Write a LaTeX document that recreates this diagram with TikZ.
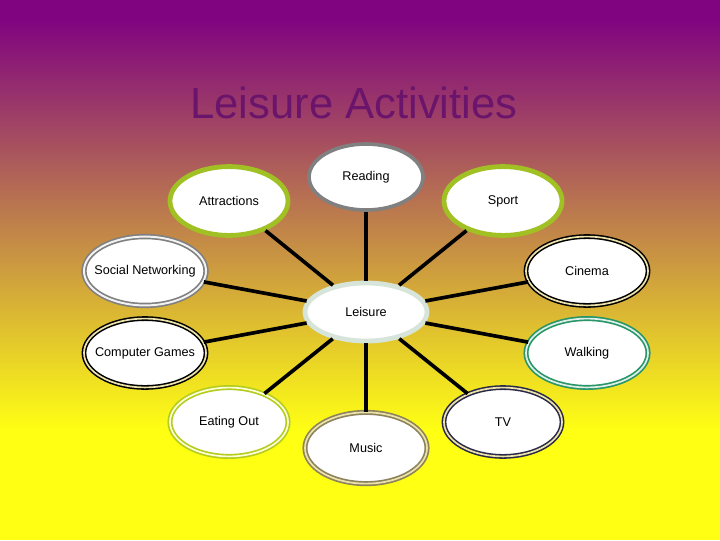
\documentclass[tikz,border=0pt]{standalone}
\usepackage{fontspec}
\setmainfont{Liberation Sans}
\usetikzlibrary{shapes.geometric}
\definecolor{titlepurple}{RGB}{106,20,108}
\definecolor{topviolet}{RGB}{128,4,128}
\definecolor{midtan}{RGB}{186,146,96}
\definecolor{lowyellow}{RGB}{255,255,20}
\definecolor{limegreen}{RGB}{160,192,36}
\definecolor{fadedgrey}{RGB}{128,128,128}
\definecolor{gapbeige}{RGB}{236,226,170}
\definecolor{walkgreen}{RGB}{40,150,104}
\definecolor{navyring}{RGB}{40,40,72}
\definecolor{olivering}{RGB}{140,130,92}
\definecolor{palering}{RGB}{214,228,218}
\begin{document}
\begin{tikzpicture}[x=0.025cm, y=-0.025cm,
    bubble/.style={ellipse, fill=white, inner sep=0pt, minimum width=2.95cm, minimum height=1.72cm, font=\fontsize{9}{11}\selectfont},
    spoke/.style={line width=2.6pt, black}]
    \useasboundingbox (0,0) rectangle (720,540);
    % background
    \fill[topviolet] (0,0) rectangle (720,21);
    \fill[top color=topviolet, middle color=midtan, bottom color=lowyellow] (0,20) rectangle (720,430);
    \fill[lowyellow] (0,429) rectangle (720,540);

    \node (title) at (354,103) [text=titlepurple, font=\fontsize{31}{35}\selectfont]{Leisure Activities};

    \node (leisure) at (366,312) [bubble, minimum width=3.05cm, minimum height=1.45cm, draw=palering, line width=3.4pt]{Leisure};

    \node (reading) at (366,177) [bubble, minimum width=2.85cm, minimum height=1.65cm, draw=fadedgrey, line width=2.6pt]{Reading};
    \node (attractions) at (229,201) [bubble, draw=limegreen, line width=3.4pt]{Attractions};
    \node (sport) at (503,201) [bubble, draw=limegreen, line width=3.4pt]{Sport};
    \node (social) at (145,271) [bubble, minimum width=3.05cm, inner xsep=-14pt, draw=fadedgrey, double=white!90!fadedgrey, double distance=1.4pt, line width=1.2pt]{Social Networking};
    \node (cinema) at (587,271) [bubble, minimum width=3.05cm, draw=black, double=gapbeige, double distance=1.2pt, line width=1.1pt]{Cinema};
    \node (games) at (145,353) [bubble, minimum width=3.05cm, inner xsep=-12pt, draw=black, double=gapbeige, double distance=1.2pt, line width=1.1pt]{Computer Games};
    \node (walking) at (587,353) [bubble, minimum width=3.05cm, draw=walkgreen, double=white!85!walkgreen, double distance=1.2pt, line width=1.2pt]{Walking};
    \node (eating) at (229,422) [bubble, draw=limegreen!80!yellow, double=white!85!yellow, double distance=1.2pt, line width=1.2pt]{Eating Out};
    \node (tv) at (503,422) [bubble, draw=navyring, double=gapbeige, double distance=1.2pt, line width=1.1pt]{TV};
    \node (music) at (366,448) [bubble, minimum width=3.05cm, minimum height=1.78cm, draw=olivering, double=gapbeige, double distance=1.2pt, line width=1.2pt]{Music};

    % spokes
    \foreach \n in {reading,attractions,sport,social,cinema,games,walking,eating,tv,music}
        \draw[spoke] (leisure) -- (\n);
\end{tikzpicture}
\end{document}
